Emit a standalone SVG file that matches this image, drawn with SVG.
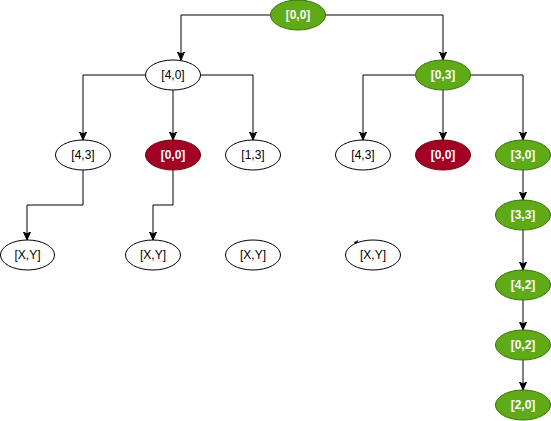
<svg xmlns="http://www.w3.org/2000/svg" width="551" height="421" viewBox="0 0 551 421">
<defs>
<style>
.n{fill:#fff;stroke:#000;stroke-width:1}
.g{fill:#60a917;stroke:#2d7600;stroke-width:1}
.r{fill:#a20025;stroke:#6f0000;stroke-width:1}
text{font-family:"Liberation Sans",Arial,sans-serif;font-size:12px;text-anchor:middle}
.t{fill:#000}
.w{fill:#fff;font-weight:bold}
.c{fill:none;stroke:#000;stroke-width:1;marker-end:url(#a)}
</style>
<marker id="a" markerUnits="userSpaceOnUse" markerWidth="10" markerHeight="10" viewBox="0 0 10 10" refX="8" refY="5" orient="auto">
<path d="M0,1.5 L8,5 L0,8.5 L2,5 Z" fill="#000" stroke="#000" stroke-width="1"/>
</marker>
</defs>
<g id="connectors">
<path class="c" d="M270,15 H181 V60"/>
<path class="c" d="M325,15 H443 V60"/>
<path class="c" d="M145,75 H83 V140"/>
<path class="c" d="M173,90 V140"/>
<path class="c" d="M200,75 H253 V140"/>
<path class="c" d="M415,75 H363 V140"/>
<path class="c" d="M443,90 V140"/>
<path class="c" d="M470,75 H523 V140"/>
<path class="c" d="M83,170 V205 H27 V240"/>
<path class="c" d="M173,170 V205 H153 V240"/>
<path class="c" d="M523,170 V200"/>
<path class="c" d="M523,230 V270"/>
<path class="c" d="M523,300 V330"/>
<path class="c" d="M523,360 V390"/>
<path d="M354,242.5 L358,240.5 L357,242.5 L358,244 Z" fill="#000" stroke="#000" stroke-width="0.5"/>
</g>
<g id="n00"><ellipse class="g" cx="298" cy="15" rx="27.5" ry="15"/><text class="w" x="298" y="19">[0,0]</text></g>
<g id="n40"><ellipse class="n" cx="173" cy="75" rx="27.5" ry="15"/><text class="t" x="173" y="79">[4,0]</text></g>
<g id="n03"><ellipse class="g" cx="443" cy="75" rx="27.5" ry="15"/><text class="w" x="443" y="79">[0,3]</text></g>
<g id="n43a"><ellipse class="n" cx="83" cy="155" rx="27.5" ry="15"/><text class="t" x="83" y="159">[4,3]</text></g>
<g id="n00a"><ellipse class="r" cx="173" cy="155" rx="27.5" ry="15"/><text class="w" x="173" y="159">[0,0]</text></g>
<g id="n13"><ellipse class="n" cx="253" cy="155" rx="27.5" ry="15"/><text class="t" x="253" y="159">[1,3]</text></g>
<g id="n43b"><ellipse class="n" cx="363" cy="155" rx="27.5" ry="15"/><text class="t" x="363" y="159">[4,3]</text></g>
<g id="n00b"><ellipse class="r" cx="443" cy="155" rx="27.5" ry="15"/><text class="w" x="443" y="159">[0,0]</text></g>
<g id="n30"><ellipse class="g" cx="523" cy="155" rx="27.5" ry="15"/><text class="w" x="523" y="159">[3,0]</text></g>
<g id="n33"><ellipse class="g" cx="523" cy="215" rx="27.5" ry="15"/><text class="w" x="523" y="219">[3,3]</text></g>
<g id="n42"><ellipse class="g" cx="523" cy="285" rx="27.5" ry="15"/><text class="w" x="523" y="289">[4,2]</text></g>
<g id="n02"><ellipse class="g" cx="523" cy="345" rx="27.5" ry="15"/><text class="w" x="523" y="349">[0,2]</text></g>
<g id="n20"><ellipse class="g" cx="523" cy="405" rx="27.5" ry="15"/><text class="w" x="523" y="409">[2,0]</text></g>
<g id="xy1"><ellipse class="n" cx="27.5" cy="255" rx="27" ry="15"/><text class="t" x="27.5" y="259">[X,Y]</text></g>
<g id="xy2"><ellipse class="n" cx="153" cy="255" rx="27.5" ry="15"/><text class="t" x="153" y="259">[X,Y]</text></g>
<g id="xy3"><ellipse class="n" cx="253" cy="255" rx="27.5" ry="15"/><text class="t" x="253" y="259">[X,Y]</text></g>
<g id="xy4"><ellipse class="n" cx="373" cy="255" rx="27.5" ry="15"/><text class="t" x="373" y="259">[X,Y]</text></g>
</svg>
